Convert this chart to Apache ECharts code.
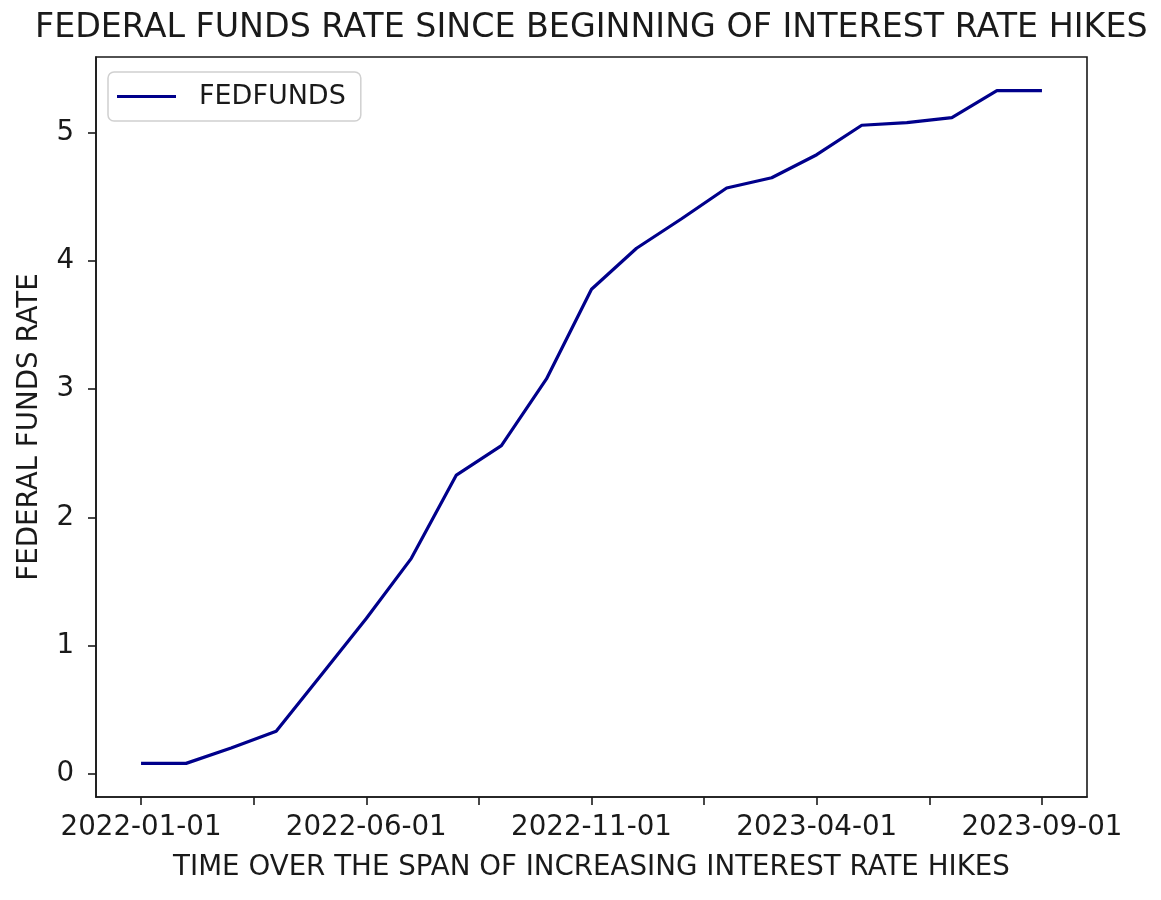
<!DOCTYPE html>
<html>
<head>
<meta charset="utf-8">
<script src="https://cdn.jsdelivr.net/npm/echarts@6/dist/echarts.min.js"></script>
<style>
html,body{margin:0;padding:0;background:#fff;}
#chart{width:1161px;height:900px;}
</style>
</head>
<body>
<div id="chart"></div>
<script>
const dates = ['2022-01-01','2022-02-01','2022-03-01','2022-04-01','2022-05-01','2022-06-01','2022-07-01',
  '2022-08-01','2022-09-01','2022-10-01','2022-11-01','2022-12-01','2023-01-01','2023-02-01',
  '2023-03-01','2023-04-01','2023-05-01','2023-06-01','2023-07-01','2023-08-01','2023-09-01'];
const fedfunds = [0.08,0.08,0.20,0.33,0.77,1.21,1.68,2.33,2.56,3.08,3.78,4.10,4.33,4.57,4.65,4.83,5.06,5.08,5.12,5.33,5.33];
const xTickPositions = [0,2.5,5,7.5,10,12.5,15,17.5,20];
const xLabelPositions = [0,5,10,15,20];
const yTicks = [0,1,2,3,4,5];

const FONT = 'DejaVu Sans';
const chart = echarts.init(document.getElementById('chart'), null, {renderer:'canvas'});
chart.setOption({
  animation:false,
  backgroundColor:'#fff',
  title:{
    text:'FEDERAL FUNDS RATE SINCE BEGINNING OF INTEREST RATE HIKES',
    left:35, top:12, padding:0,
    textStyle:{fontFamily:FONT,fontSize:33.3,fontWeight:'normal',color:'#1a1a1a'}
  },
  legend:{
    left:108, top:72,
    padding:[11,15,11,9],
    itemWidth:59, itemHeight:3, itemGap:10,
    icon:'rect',
    borderColor:'#d0d0d0', borderWidth:1.5, borderRadius:6,
    backgroundColor:'rgba(255,255,255,0.8)',
    textStyle:{fontFamily:FONT,fontSize:27,color:'#1a1a1a',padding:[0,0,0,18]},
    data:['FEDFUNDS']
  },
  grid:{left:96,right:74,top:57,bottom:103,show:true,borderColor:'#1a1a1a',borderWidth:1.6,backgroundColor:'transparent'},
  xAxis:{
    type:'value', min:-1, max:21,
    name:'TIME OVER THE SPAN OF INCREASING INTEREST RATE HIKES',
    nameLocation:'middle', nameGap:57,
    nameTextStyle:{fontFamily:FONT,fontSize:27.7,color:'#1a1a1a'},
    axisLine:{show:true,onZero:false,lineStyle:{color:'#1a1a1a',width:1.6}},
    axisTick:{show:true,inside:false,length:8,customValues:xTickPositions,lineStyle:{color:'#1a1a1a',width:1.6}},
    axisLabel:{customValues:xLabelPositions,margin:17,fontFamily:FONT,fontSize:27.7,color:'#1a1a1a',
      formatter:function(v){return dates[Math.round(v)];}},
    splitLine:{show:false}
  },
  yAxis:{
    type:'value', min:-0.1825, max:5.5925,
    name:'FEDERAL FUNDS RATE',
    nameLocation:'middle', nameGap:52,
    nameTextStyle:{fontFamily:FONT,fontSize:27.7,color:'#1a1a1a'},
    axisLine:{show:true,onZero:false,lineStyle:{color:'#1a1a1a',width:1.6}},
    axisTick:{show:true,inside:false,length:8,customValues:yTicks,lineStyle:{color:'#1a1a1a',width:1.6}},
    axisLabel:{customValues:yTicks,margin:22,fontFamily:FONT,fontSize:27.7,color:'#1a1a1a'},
    splitLine:{show:false}
  },
  series:[{
    name:'FEDFUNDS',
    type:'line',
    data:fedfunds.map(function(v,i){return [i,v];}),
    showSymbol:false, symbol:'none',
    lineStyle:{color:'#00008B',width:3.2},
    itemStyle:{color:'#00008B'}
  }]
});
</script>
</body>
</html>
